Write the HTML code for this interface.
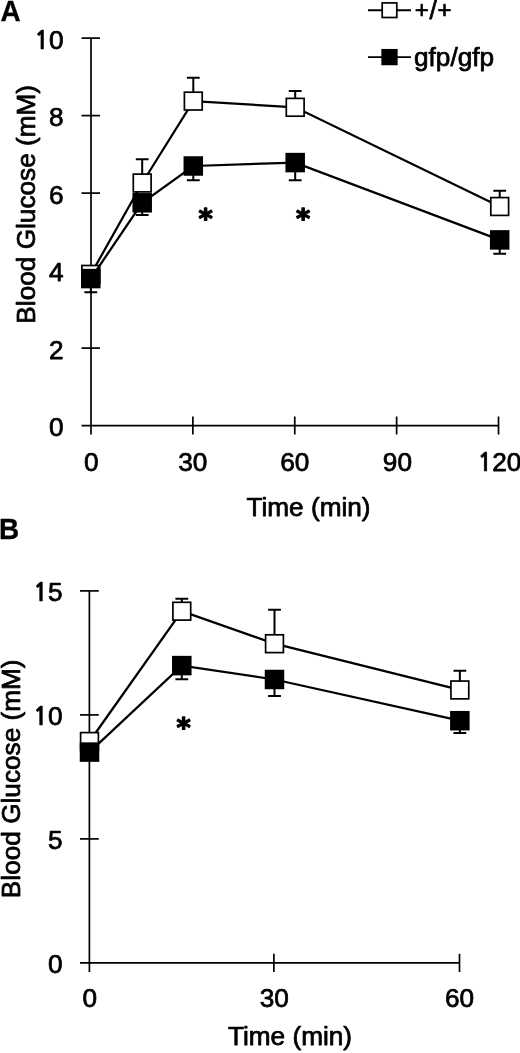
<!DOCTYPE html>
<html lang="en"><head><meta charset="utf-8"><title>Figure</title>
<style>
html,body{margin:0;padding:0;background:#fff;}
svg{display:block;}
text{font-family:"Liberation Sans",Arial,Helvetica,sans-serif;font-size:26.2px;fill:#000;stroke:#000;stroke-width:0.75px;stroke-linejoin:round;}
.w{font-family:"NanumGothic","Liberation Sans",sans-serif;font-weight:bold;font-size:24.6px;stroke-width:0.5px;}
.pl{font-size:24px;stroke-width:0.7px;}
.b{font-weight:bold;font-size:29.7px;stroke-width:0.3px;}
.ast{font-family:"DejaVu Sans","Liberation Sans",sans-serif;font-weight:bold;font-size:27.2px;stroke-width:1.3px;stroke-linejoin:round;}
</style></head><body>
<svg width="520" height="1053" viewBox="0 0 520 1053">
<rect width="520" height="1053" fill="#fff"/>

<g stroke="#000" stroke-width="1.7" fill="none">
<path d="M91.0 38V434.5"/>
<path d="M81.5 425.6H498.52"/>
<path d="M81.5 348.10H100"/>
<path d="M81.5 270.60H100"/>
<path d="M81.5 193.10H100"/>
<path d="M81.5 115.60H100"/>
<path d="M81.5 38.10H100"/>
<path d="M192.88 416.5V434.5"/>
<path d="M294.76 416.5V434.5"/>
<path d="M396.64 416.5V434.5"/>
<path d="M498.52 416.5V434.5"/>
</g>
<text x="63.7" y="436.00" text-anchor="end">0</text>
<text x="63.7" y="358.50" text-anchor="end">2</text>
<text x="63.7" y="281.00" text-anchor="end">4</text>
<text x="63.7" y="203.50" text-anchor="end">6</text>
<text x="63.7" y="126.00" text-anchor="end">8</text>
<text x="63.7" y="48.50" text-anchor="end"><tspan class="w">1</tspan>0</text>
<text x="91.25" y="470.7" text-anchor="middle">0</text>
<text x="192.80" y="470.7" text-anchor="middle">30</text>
<text x="294.80" y="470.7" text-anchor="middle">60</text>
<text x="397.40" y="470.7" text-anchor="middle">90</text>
<text x="499.40" y="470.7" text-anchor="middle"><tspan class="w">1</tspan>20</text>
<text x="308.5" y="516" text-anchor="middle">Time (min)</text>
<text transform="translate(35.3 204.3) rotate(-90)" text-anchor="middle">Blood Glucose (mM)</text>
<text class="b" transform="translate(0.6 20.7) scale(0.94 1)">A</text>
<polyline points="90.80,274.40 142.20,183.00 193.30,101.10 295.20,107.30 499.70,206.50" fill="none" stroke="#000" stroke-width="2.25"/>
<path d="M142.20 183.00V159.20M135.80 159.20H148.60" stroke="#000" stroke-width="2" fill="none"/>
<path d="M193.30 101.10V77.80M186.90 77.80H199.70" stroke="#000" stroke-width="2" fill="none"/>
<path d="M295.20 107.30V91.00M288.80 91.00H301.60" stroke="#000" stroke-width="2" fill="none"/>
<path d="M499.70 206.50V190.75M493.30 190.75H506.10" stroke="#000" stroke-width="2" fill="none"/>
<rect x="81.90" y="265.50" width="17.8" height="17.8" fill="#fff" stroke="#000" stroke-width="1.7"/>
<rect x="133.30" y="174.10" width="17.8" height="17.8" fill="#fff" stroke="#000" stroke-width="1.7"/>
<rect x="184.40" y="92.20" width="17.8" height="17.8" fill="#fff" stroke="#000" stroke-width="1.7"/>
<rect x="286.30" y="98.40" width="17.8" height="17.8" fill="#fff" stroke="#000" stroke-width="1.7"/>
<rect x="490.80" y="197.60" width="17.8" height="17.8" fill="#fff" stroke="#000" stroke-width="1.7"/>
<polyline points="90.80,278.60 142.20,202.80 193.30,166.00 295.20,162.60 499.70,239.90" fill="none" stroke="#000" stroke-width="2.25"/>
<path d="M90.80 278.60V292.20M84.40 292.20H97.20" stroke="#000" stroke-width="2" fill="none"/>
<path d="M142.20 202.80V215.00M135.80 215.00H148.60" stroke="#000" stroke-width="2" fill="none"/>
<path d="M193.30 166.00V180.20M186.90 180.20H199.70" stroke="#000" stroke-width="2" fill="none"/>
<path d="M295.20 162.60V180.20M288.80 180.20H301.60" stroke="#000" stroke-width="2" fill="none"/>
<path d="M499.70 239.90V253.80M493.30 253.80H506.10" stroke="#000" stroke-width="2" fill="none"/>
<rect x="81.90" y="269.70" width="17.8" height="17.8" fill="#000" stroke="#000" stroke-width="1.7"/>
<rect x="133.30" y="193.90" width="17.8" height="17.8" fill="#000" stroke="#000" stroke-width="1.7"/>
<rect x="184.40" y="157.10" width="17.8" height="17.8" fill="#000" stroke="#000" stroke-width="1.7"/>
<rect x="286.30" y="153.70" width="17.8" height="17.8" fill="#000" stroke="#000" stroke-width="1.7"/>
<rect x="490.80" y="231.00" width="17.8" height="17.8" fill="#000" stroke="#000" stroke-width="1.7"/>
<text class="ast" x="205.6" y="227.5" text-anchor="middle">*</text>
<text class="ast" x="303" y="227.5" text-anchor="middle">*</text>
<path d="M368 10.2H411M368 57.1H411" stroke="#000" stroke-width="1.9"/>
<rect x="382.2" y="2.9" width="14.6" height="14.6" fill="#fff" stroke="#000" stroke-width="1.7"/>
<rect x="382.2" y="49.8" width="14.6" height="14.6" fill="#000" stroke="#000" stroke-width="1.7"/>
<text y="18.8"><tspan class="pl" x="421.75" y="18.05" text-anchor="middle">+</tspan><tspan x="429.4" y="18.8">/</tspan><tspan class="pl" x="444.5" y="18.05" text-anchor="middle">+</tspan></text>
<text x="414" y="66">gfp/gfp</text>
<g stroke="#000" stroke-width="1.7" fill="none">
<path d="M89.4 590.90V972"/>
<path d="M80 962.9H459.5"/>
<path d="M80 838.90H98.75"/>
<path d="M80 714.90H98.75"/>
<path d="M80 590.90H98.75"/>
<path d="M273.90 953.8V972"/>
<path d="M459.50 953.8V972"/>
</g>
<text x="62.5" y="972.60" text-anchor="end">0</text>
<text x="62.5" y="848.60" text-anchor="end">5</text>
<text x="62.5" y="724.60" text-anchor="end"><tspan class="w">1</tspan>0</text>
<text x="62.5" y="600.60" text-anchor="end"><tspan class="w">1</tspan>5</text>
<text x="89.70" y="1007.3" text-anchor="middle">0</text>
<text x="274.30" y="1007.3" text-anchor="middle">30</text>
<text x="459.60" y="1007.3" text-anchor="middle">60</text>
<text x="290" y="1044.6" text-anchor="middle">Time (min)</text>
<text transform="translate(20.2 778.8) rotate(-90)" text-anchor="middle">Blood Glucose (mM)</text>
<text class="b" transform="translate(-1.1 539.4) scale(0.94 1)">B</text>
<polyline points="89.50,741.50 181.80,611.20 274.50,643.70 459.85,689.95" fill="none" stroke="#000" stroke-width="2.25"/>
<path d="M181.80 611.20V598.80M175.40 598.80H188.20" stroke="#000" stroke-width="2" fill="none"/>
<path d="M274.50 643.70V609.70M268.10 609.70H280.90" stroke="#000" stroke-width="2" fill="none"/>
<path d="M459.85 689.95V670.75M453.45 670.75H466.25" stroke="#000" stroke-width="2" fill="none"/>
<rect x="80.60" y="732.60" width="17.8" height="17.8" fill="#fff" stroke="#000" stroke-width="1.7"/>
<rect x="172.90" y="602.30" width="17.8" height="17.8" fill="#fff" stroke="#000" stroke-width="1.7"/>
<rect x="265.60" y="634.80" width="17.8" height="17.8" fill="#fff" stroke="#000" stroke-width="1.7"/>
<rect x="450.95" y="681.05" width="17.8" height="17.8" fill="#fff" stroke="#000" stroke-width="1.7"/>
<polyline points="89.50,752.10 181.80,665.60 274.50,679.50 459.85,720.70" fill="none" stroke="#000" stroke-width="2.25"/>
<path d="M181.80 665.60V679.30M175.40 679.30H188.20" stroke="#000" stroke-width="2" fill="none"/>
<path d="M274.50 679.50V695.90M268.10 695.90H280.90" stroke="#000" stroke-width="2" fill="none"/>
<path d="M459.85 720.70V733.00M453.45 733.00H466.25" stroke="#000" stroke-width="2" fill="none"/>
<rect x="80.60" y="743.20" width="17.8" height="17.8" fill="#000" stroke="#000" stroke-width="1.7"/>
<rect x="172.90" y="656.70" width="17.8" height="17.8" fill="#000" stroke="#000" stroke-width="1.7"/>
<rect x="265.60" y="670.60" width="17.8" height="17.8" fill="#000" stroke="#000" stroke-width="1.7"/>
<rect x="450.95" y="711.80" width="17.8" height="17.8" fill="#000" stroke="#000" stroke-width="1.7"/>
<text class="ast" x="183.7" y="737" text-anchor="middle">*</text>
</svg>
</body></html>
